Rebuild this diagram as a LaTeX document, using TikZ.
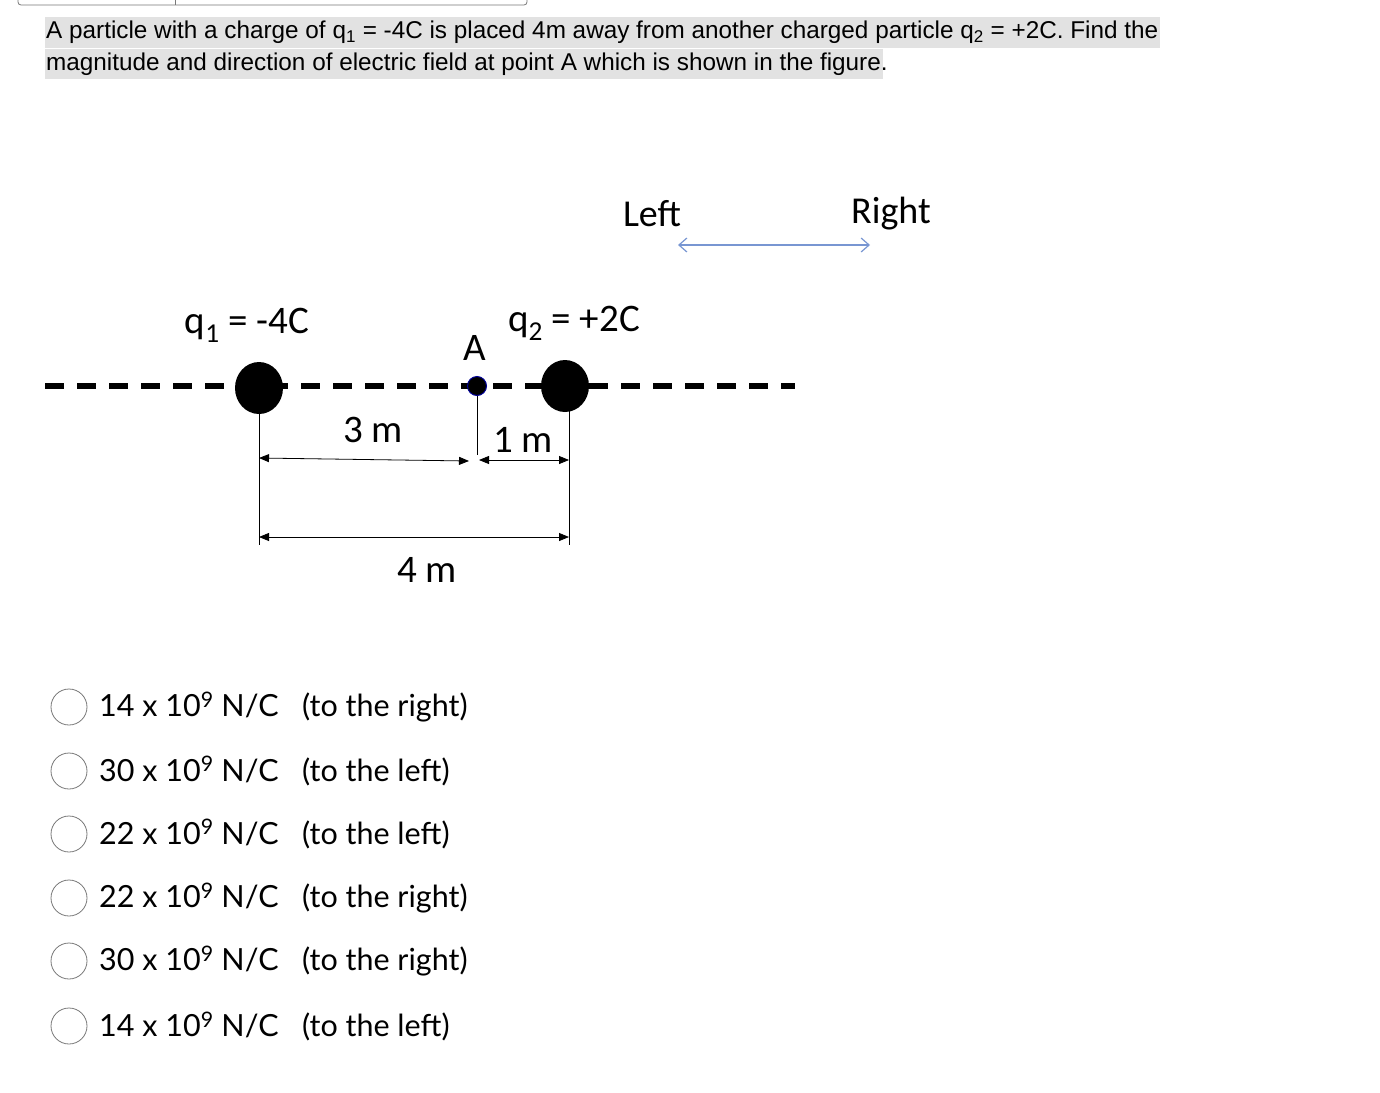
\documentclass[tikz,border=0pt]{standalone}
\usepackage{fontspec}
\setmainfont{Liberation Sans}
\newfontfamily\calib{Carlito}
\newfontfamily\latof{Lato}
\usetikzlibrary{arrows.meta,shapes.geometric}
\definecolor{hl}{RGB}{226,226,226}
\definecolor{arrblue}{RGB}{120,150,210}
\definecolor{rad}{RGB}{120,120,120}
\tikzset{
  fig/.style={font=\calib\fontsize{39}{42}\selectfont, inner sep=0pt},
  lr/.style={font=\calib\fontsize{38}{42}\selectfont, inner sep=0pt},
  opt/.style={font=\latof\fontsize{30.5}{34}\selectfont, anchor=west, inner sep=0pt},
  radio/.style={circle, draw=rad, line width=0.8pt, minimum size=36pt, inner sep=0pt},
  dimb/.style={line width=0.8pt, {Triangle[length=10pt,width=8pt]}-{Triangle[length=10pt,width=8pt]}},
  charge/.style={ellipse, fill=black, minimum width=48pt, minimum height=52pt, inner sep=0pt},
  qtext/.style={anchor=west, inner sep=0pt, font=\fontsize{24.3}{28}\selectfont},
}
\begin{document}
\begin{tikzpicture}[x=1pt,y=-1pt]
\useasboundingbox (0,0) rectangle (1380,1092);
% top tab outline
\draw[rad, line width=0.8pt, rounded corners=3pt] (18,-5) rectangle (527,5);
\draw[rad, line width=0.8pt] (175,-5) -- (175,5);
% question
\fill[hl] (45,17) rectangle (1160,48);
\fill[hl] (45,49) rectangle (883,79);
\node[qtext] (q1t) at (46,32) {A particle with a charge of q\textsubscript{1} = -4C is placed 4m away from another charged particle q\textsubscript{2} = +2C. Find the};
\node[qtext] (q2t) at (46,64) {magnitude and direction of electric field at point A which is shown in the figure.};
% Left/Right
\node[lr] (left) at (652,214) {Left};
\node[lr] (right) at (891,214) {Right};
\coordinate (la) at (678,245);
\coordinate (ra) at (870,245);
\draw[arrblue, line width=1.2pt, {Straight Barb[length=8pt,width=14pt]}-{Straight Barb[length=8pt,width=14pt]}] (la) -- (ra);
% axis
\coordinate (ax1) at (45,386);
\coordinate (ax2) at (795,386);
\draw[line width=6pt, dash pattern=on 19pt off 13pt] (ax1) -- (ax2);
\node[charge] (c1) at (259,388) {};
\node[charge] (c2) at (565,386) {};
\node[circle, fill=black, draw=blue!60!black, line width=1pt, minimum size=19pt, inner sep=0pt] (pA) at (477,386) {};
\node[fig] (l1) at (247,325) {q\textsubscript{1} = -4C};
\node[fig] (lA) at (475,348) {A};
\node[fig] (l2) at (574,323) {q\textsubscript{2} = +2C};
% extension lines
\coordinate (e1) at (259,545);
\coordinate (eA) at (477,455);
\coordinate (e2t) at (569,400);
\coordinate (e2) at (569,545);
\draw[line width=0.8pt] (c1.center) -- (e1);
\draw[line width=0.8pt] (pA.south) -- (eA);
\draw[line width=0.8pt] (e2t) -- (e2);
% dimension arrows
\coordinate (d3a) at (259,458);
\coordinate (d3b) at (469,461);
\coordinate (d1a) at (479,460);
\coordinate (d1b) at (569,460);
\coordinate (d4a) at (259,537);
\coordinate (d4b) at (569,537);
\draw[dimb] (d3a) -- (d3b);
\draw[dimb] (d1a) -- (d1b);
\draw[dimb] (d4a) -- (d4b);
\node[fig] (m3) at (373,430) {3 m};
\node[fig] (m1) at (523,440) {1 m};
\node[fig] (m4) at (427,570) {4 m};
% options
\foreach \y/\t [count=\i] in {707/{14 x 10\textsuperscript{9} N/C\ \ \ (to the right)},
  771/{30 x 10\textsuperscript{9} N/C\ \ \ (to the left)},
  834/{22 x 10\textsuperscript{9} N/C\ \ \ (to the left)},
  898/{22 x 10\textsuperscript{9} N/C\ \ \ (to the right)},
  961/{30 x 10\textsuperscript{9} N/C\ \ \ (to the right)},
  1026/{14 x 10\textsuperscript{9} N/C\ \ \ (to the left)}}{
  \node[radio] (r\i) at (69,\y) {};
  \node[opt] (o\i) at (99,\y) {\t};
}
\end{tikzpicture}
\end{document}
